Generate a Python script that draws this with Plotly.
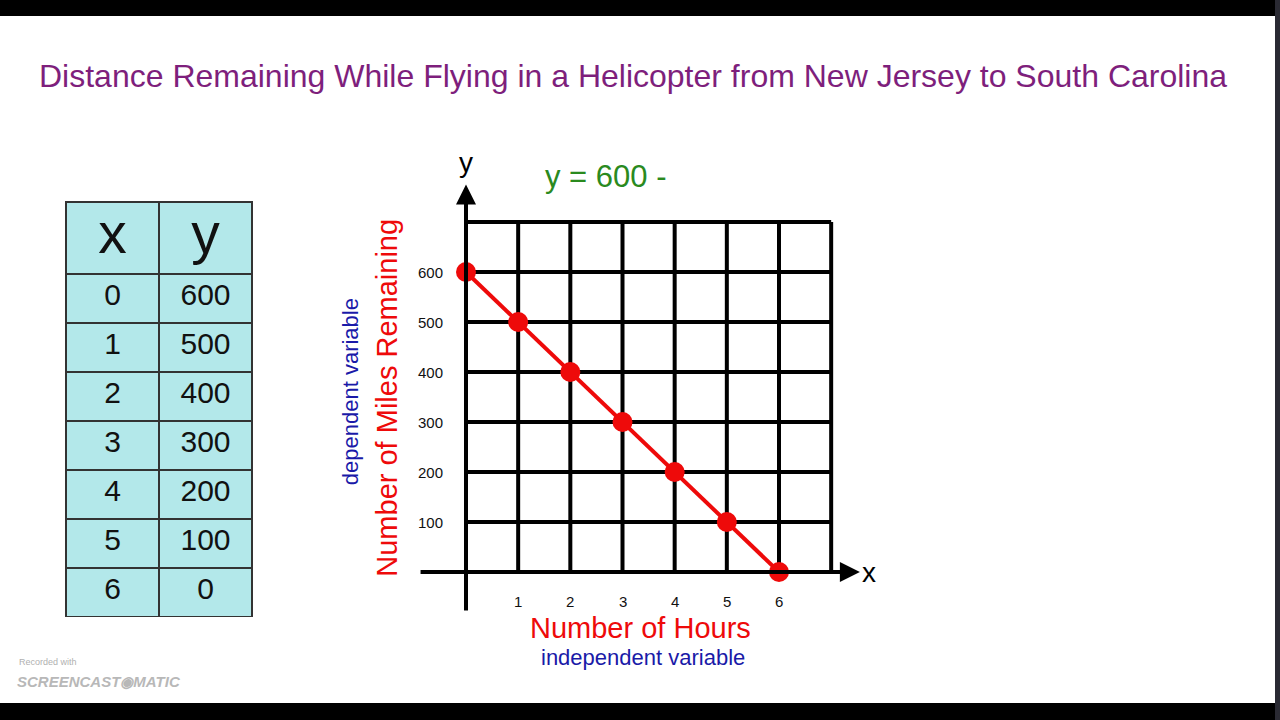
import plotly.graph_objects as go

# ---- data ----
hours = [0, 1, 2, 3, 4, 5, 6]
miles = [600, 500, 400, 300, 200, 100, 0]
x_ticks = [1, 2, 3, 4, 5, 6]
y_ticks = [100, 200, 300, 400, 500, 600]
grid_x = [0, 1, 2, 3, 4, 5, 6, 7]
grid_y = [0, 100, 200, 300, 400, 500, 600, 700]

title_text = "Distance Remaining While Flying in a Helicopter from New Jersey to South Carolina"
FONT = "Liberation Sans, Arial, sans-serif"
RED = "#ee0a0a"
BLUE = "#1a1aa8"
PURPLE = "#7e1f7c"
GREEN = "#2a8a1e"

fig = go.Figure()

# table on the left
fig.add_trace(go.Table(
    domain=dict(x=[66/1280, 252/1280], y=[1 - 618/720, 1 - 202/720]),
    columnwidth=[1, 1],
    header=dict(values=["x", "y"], height=72, fill_color="#b3e8ea",
                line=dict(color="#333333", width=1.5),
                font=dict(family=FONT, size=57, color="#111111"), align="center"),
    cells=dict(values=[hours, miles], height=49, fill_color="#b3e8ea",
               line=dict(color="#333333", width=1.5),
               font=dict(family=FONT, size=30, color="#111111"), align="center"),
))

# line with points
fig.add_trace(go.Scatter(
    x=hours, y=miles, mode="lines+markers",
    line=dict(color=RED, width=4),
    marker=dict(color=RED, size=20),
    showlegend=False, cliponaxis=False, hoverinfo="skip",
))

shapes = []
for gx in grid_x[1:]:
    shapes.append(dict(type="line", xref="x", yref="y", x0=gx, x1=gx,
                       y0=grid_y[0], y1=grid_y[-1], line=dict(color="black", width=4), layer="below"))
for gy in grid_y[1:]:
    shapes.append(dict(type="line", xref="x", yref="y", x0=grid_x[0], x1=grid_x[-1],
                       y0=gy, y1=gy, line=dict(color="black", width=4), layer="below"))
# video frame bars
shapes += [
    dict(type="rect", xref="paper", yref="paper", x0=0, x1=1, y0=1 - 16/720, y1=1,
         fillcolor="black", line=dict(width=0)),
    dict(type="rect", xref="paper", yref="paper", x0=0, x1=1, y0=0, y1=17/720,
         fillcolor="black", line=dict(width=0)),
    dict(type="rect", xref="paper", yref="paper", x0=1275/1280, x1=1, y0=0, y1=1,
         fillcolor="#2a2a33", line=dict(width=0)),
]

annotations = []
# axes with arrows
annotations.append(dict(x=0, y=775, ax=0, ay=-80, xref="x", yref="y", axref="x", ayref="y",
                        showarrow=True, arrowhead=2, arrowsize=1, arrowwidth=4, arrowcolor="black",
                        standoff=0, text=""))
annotations.append(dict(x=7.55, y=0, ax=-0.9, ay=0, xref="x", yref="y", axref="x", ayref="y",
                        showarrow=True, arrowhead=2, arrowsize=1, arrowwidth=4, arrowcolor="black",
                        standoff=0, text=""))
for t in x_ticks:
    annotations.append(dict(x=t, y=-58, xref="x", yref="y", text=str(t), showarrow=False,
                            font=dict(family=FONT, size=15, color="#111111")))
for t in y_ticks:
    annotations.append(dict(x=-0.69, y=t, xref="x", yref="y", text=str(t), showarrow=False,
                            font=dict(family=FONT, size=15, color="#111111")))
annotations += [
    dict(x=0, y=818, xref="x", yref="y", text="y", showarrow=False,
         font=dict(family=FONT, size=28, color="black")),
    dict(x=7.72, y=0, xref="x", yref="y", text="x", showarrow=False,
         font=dict(family=FONT, size=28, color="black")),
    dict(x=2.69, y=790, xref="x", yref="y", text="y = 600 -", showarrow=False,
         font=dict(family=FONT, size=31, color=GREEN)),
    dict(x=3.35, y=-112, xref="x", yref="y", text="Number of Hours", showarrow=False,
         font=dict(family=FONT, size=29, color=RED)),
    dict(x=3.39, y=-170, xref="x", yref="y", text="independent variable", showarrow=False,
         font=dict(family=FONT, size=22, color=BLUE)),
    dict(x=-1.52, y=348, xref="x", yref="y", text="Number of Miles Remaining", showarrow=False,
         textangle=-90, font=dict(family=FONT, size=29, color=RED)),
    dict(x=-2.22, y=360, xref="x", yref="y", text="dependent variable", showarrow=False,
         textangle=-90, font=dict(family=FONT, size=22, color=BLUE)),
    dict(x=633/1280, y=1 - 76/720, xref="paper", yref="paper", xanchor="center", yanchor="middle",
         text=title_text, showarrow=False,
         font=dict(family=FONT, size=32, color=PURPLE)),
    dict(x=17/1280, y=1 - 662/720, xref="paper", yref="paper", xanchor="left", yanchor="middle",
         text="Recorded with", showarrow=False, font=dict(family=FONT, size=9, color="#b0b0b0")),
    dict(x=15/1280, y=1 - 681/720, xref="paper", yref="paper", xanchor="left", yanchor="middle",
         text="<b><i>SCREENCAST◉MATIC</i></b>", showarrow=False,
         font=dict(family=FONT, size=15, color="#b8b8b8")),
]

px_per_x = (779 - 466) / 6
px_per_y = 0.5
fig.update_layout(
    width=1280, height=720,
    margin=dict(l=0, r=0, t=0, b=0),
    paper_bgcolor="white", plot_bgcolor="rgba(0,0,0,0)",
    xaxis=dict(domain=[300/1280, 900/1280],
               range=[(300 - 466) / px_per_x, (900 - 466) / px_per_x],
               visible=False, fixedrange=True),
    yaxis=dict(domain=[1 - 690/720, 1 - 140/720],
               range=[(572 - 690) / px_per_y, (572 - 140) / px_per_y],
               visible=False, fixedrange=True),
    shapes=shapes, annotations=annotations, showlegend=False,
    hovermode=False,
)

fig.write_html("out.html", config={"displayModeBar": False},
               post_script="document.body.style.margin='0';")
